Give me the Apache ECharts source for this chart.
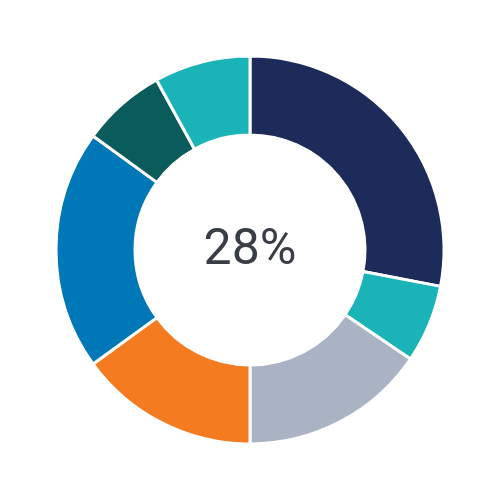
<!DOCTYPE html>
<html>
<head>
<meta charset="utf-8">
<script src="https://cdn.jsdelivr.net/npm/echarts@6/dist/echarts.min.js"></script>
<style>
  html, body { margin: 0; padding: 0; background: #fff; }
  #chart { width: 500px; height: 500px; }
</style>
</head>
<body>
<div id="chart"></div>
<script>
// slices, clockwise from 12 o'clock
const slice_names = ['A', 'B', 'C', 'D', 'E', 'F', 'G'];
const slice_values = [28, 6.5, 15.5, 15, 20, 7, 8];
const slice_colors = ['#1c2b5a', '#1ab4b8', '#a9b3c3', '#f47b20', '#0077b6', '#0a5b5c', '#1ab4b8'];
const center_label = '28%';

function build_donut_option(names, values, colors) {
    let data = names.map(function (n, i) {
        return {name: n, value: values[i], itemStyle: {color: colors[i]}};
    });

    return {
        animation: false,
        graphic: [{
            type: 'text',
            left: 'center',
            top: 222,
            style: {
                text: center_label,
                fontSize: 50,
                fontFamily: 'Roboto',
                fill: '#393d45'
            }
        }],
        series: [{
            type: 'pie',
            center: [250, 250],
            radius: [115, 194],
            startAngle: 90,
            clockwise: true,
            label: {show: false},
            labelLine: {show: false},
            emphasis: {disabled: true},
            itemStyle: {borderColor: '#fff', borderWidth: 3},
            data: data
        }]
    };
}

let chart = echarts.init(document.getElementById('chart'), null, {renderer: 'svg'});
chart.setOption(build_donut_option(slice_names, slice_values, slice_colors));
</script>
</body>
</html>
